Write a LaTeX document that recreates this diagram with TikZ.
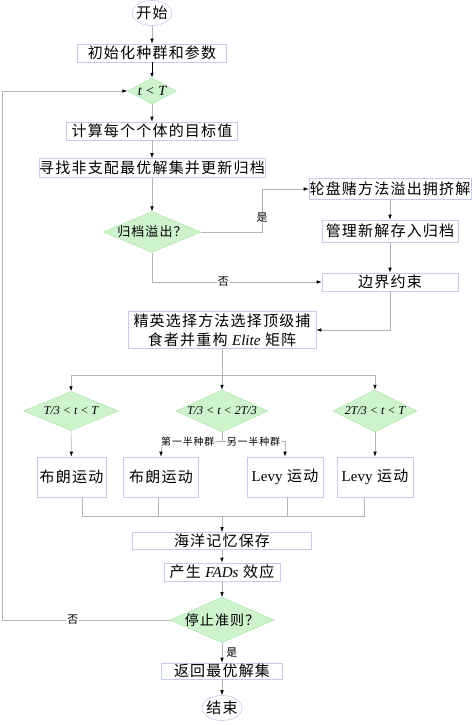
\documentclass[tikz,border=0pt]{standalone}
\usepackage{fontspec}
\setmainfont{Liberation Serif}
\newfontfamily\cjk[LetterSpace=8]{Noto Sans CJK SC}
\usetikzlibrary{shapes.geometric,arrows.meta}
\definecolor{boxline}{RGB}{196,204,232}
\definecolor{condfill}{RGB}{206,242,204}
\definecolor{condline}{RGB}{168,222,168}
\definecolor{wiregray}{RGB}{180,180,180}
\newcommand{\lat}[1]{{\rmfamily #1}}
\newcommand{\lit}[1]{{\rmfamily\itshape #1}}
\tikzset{
	box/.style={draw=boxline, line width=0.6pt, inner sep=0pt, font=\fontsize{15}{19}\cjk},
	term/.style={ellipse, draw=boxline, line width=0.6pt, inner xsep=-2pt, inner ysep=0pt, minimum width=40pt, minimum height=25pt, font=\fontsize{15}{19}\cjk},
	cond/.style={diamond, draw=condline, fill=condfill, inner sep=0pt, font=\fontsize{14}{16}\cjk},
	wire/.style={draw=wiregray, line width=0.6pt, -{Latex[length=5pt,width=3.5pt,color=black]}},
	plain/.style={draw=wiregray, line width=0.6pt},
	lab/.style={fill=white, inner sep=1pt, font=\fontsize{11}{12}\cjk},
}
\begin{document}
\begin{tikzpicture}[x=1pt, y=-1pt]
	\useasboundingbox (0,0) rectangle (474,725);
	\node[term] (start) at (152,13) {开始};
	\node[box, minimum width=149pt, minimum height=18pt] (init) at (152,53) {初始化种群和参数};
	\node[cond, minimum width=49pt, minimum height=26pt, aspect=1.9, font=\fontsize{14}{16}\rmfamily\itshape] (loop) at (152,91) {t < T};
	\node[box, minimum width=171pt, minimum height=18pt] (eval) at (152,131) {计算每个个体的目标值};
	\node[box, minimum width=226pt, minimum height=19pt] (archive) at (152,168) {寻找非支配最优解集并更新归档};
	\node[cond, minimum width=95pt, minimum height=40pt, aspect=2.4, font=\fontsize{13}{15}\cjk] (over) at (152,232) {归档溢出？};
	\node[box, minimum width=162pt, minimum height=21pt] (roul) at (390,189) {轮盘赌方法溢出拥挤解};
	\node[box, minimum width=136pt, minimum height=22pt] (manage) at (390,231) {管理新解存入归档};
	\node[box, minimum width=136pt, minimum height=18pt] (bound) at (390,282) {边界约束};
	\node[box, minimum width=188pt, minimum height=37pt, align=center] (elite) at (222,330) {精英选择方法选择顶级捕\\食者并重构 \lit{Elite} 矩阵};
	\node[cond, minimum width=95pt, minimum height=39pt, aspect=2.44, font=\fontsize{12}{14}\rmfamily\itshape] (c1) at (71,411) {T/3 < t < T};
	\node[cond, minimum width=92pt, minimum height=42pt, aspect=2.19, font=\fontsize{12}{14}\rmfamily\itshape] (c2) at (222,411) {T/3 < t < 2T/3};
	\node[cond, minimum width=84pt, minimum height=42pt, aspect=2.0, font=\fontsize{12}{14}\rmfamily\itshape] (c3) at (375,411) {2T/3 < t < T};
	\foreach \n/\x/\w/\t in {b1/71.5/69/布朗运动, b2/161/75/布朗运动, b3/285/76/{\lat{Levy} 运动}, b4/375/76/{\lat{Levy} 运动}}{
		\node[box, minimum width=\w pt, minimum height=40pt] (\n) at (\x,477) {\t};
	}
	\node[box, minimum width=179pt, minimum height=17pt] (ocean) at (222,541) {海洋记忆保存};
	\node[box, minimum width=116pt, minimum height=18pt] (fads) at (222,572) {产生 \lit{FADs} 效应};
	\node[cond, minimum width=104pt, minimum height=45pt, aspect=2.3] (stop) at (222,620) {停止准则？};
	\node[box, minimum width=121pt, minimum height=16pt] (ret) at (222,671) {返回最优解集};
	\node[term] (finish) at (222,708) {结束};

	\draw[wire] (start) -- (init);
	\draw[wire, draw=black, line width=0.8pt] (init) -- (loop);
	\draw[wire] (loop) -- (eval);
	\draw[wire] (eval) -- (archive);
	\draw[wire] (archive) -- (over);
	\draw[wire] (over.east) -- ++(61,0) |- node[lab, pos=0.17]{是} (roul.west);
	\draw[wire] (over.south) |- node[lab, pos=0.71]{否} (bound.west);
	\draw[wire] (roul) -- (manage);
	\draw[wire] (manage) -- (bound);
	\draw[wire] (bound.south) |- (elite.east);
	\draw[plain] (elite.south) -- ++(0,26) coordinate (split);
	\foreach \d in {c1,c2,c3}{
		\draw[wire] (split) -| (\d.north);
	}
	\draw[wire] (c1) -- (b1);
	\draw[wire] (c3) -- (b4);
	\draw[plain] (c2.south) -- ++(0,9) coordinate (half);
	\draw[wire] (half) -| node[lab, pos=0.28, font=\fontsize{10}{11}\cjk]{第一半种群} (b2.north);
	\draw[wire] (half) -| node[lab, pos=0.25, font=\fontsize{10}{11}\cjk]{另一半种群} (b3.north);
	\coordinate (merge) at (222,516);
	\foreach \b/\dx in {b1/11,b2/-3,b3/2,b4/-11}{
		\draw[plain] ([xshift=\dx pt]\b.south) |- (merge);
	}
	\draw[wire] (merge) -- (ocean);
	\draw[wire] (ocean) -- (fads);
	\draw[wire] (fads) -- (stop);
	\draw[wire] (stop) -- node[lab, right=3pt, fill=none]{是} (ret);
	\draw[wire] (ret) -- (finish);
	\draw[wire] (stop.west) -- node[lab, pos=0.58]{否} ++(-167,0) |- (loop.west);
\end{tikzpicture}
\end{document}
